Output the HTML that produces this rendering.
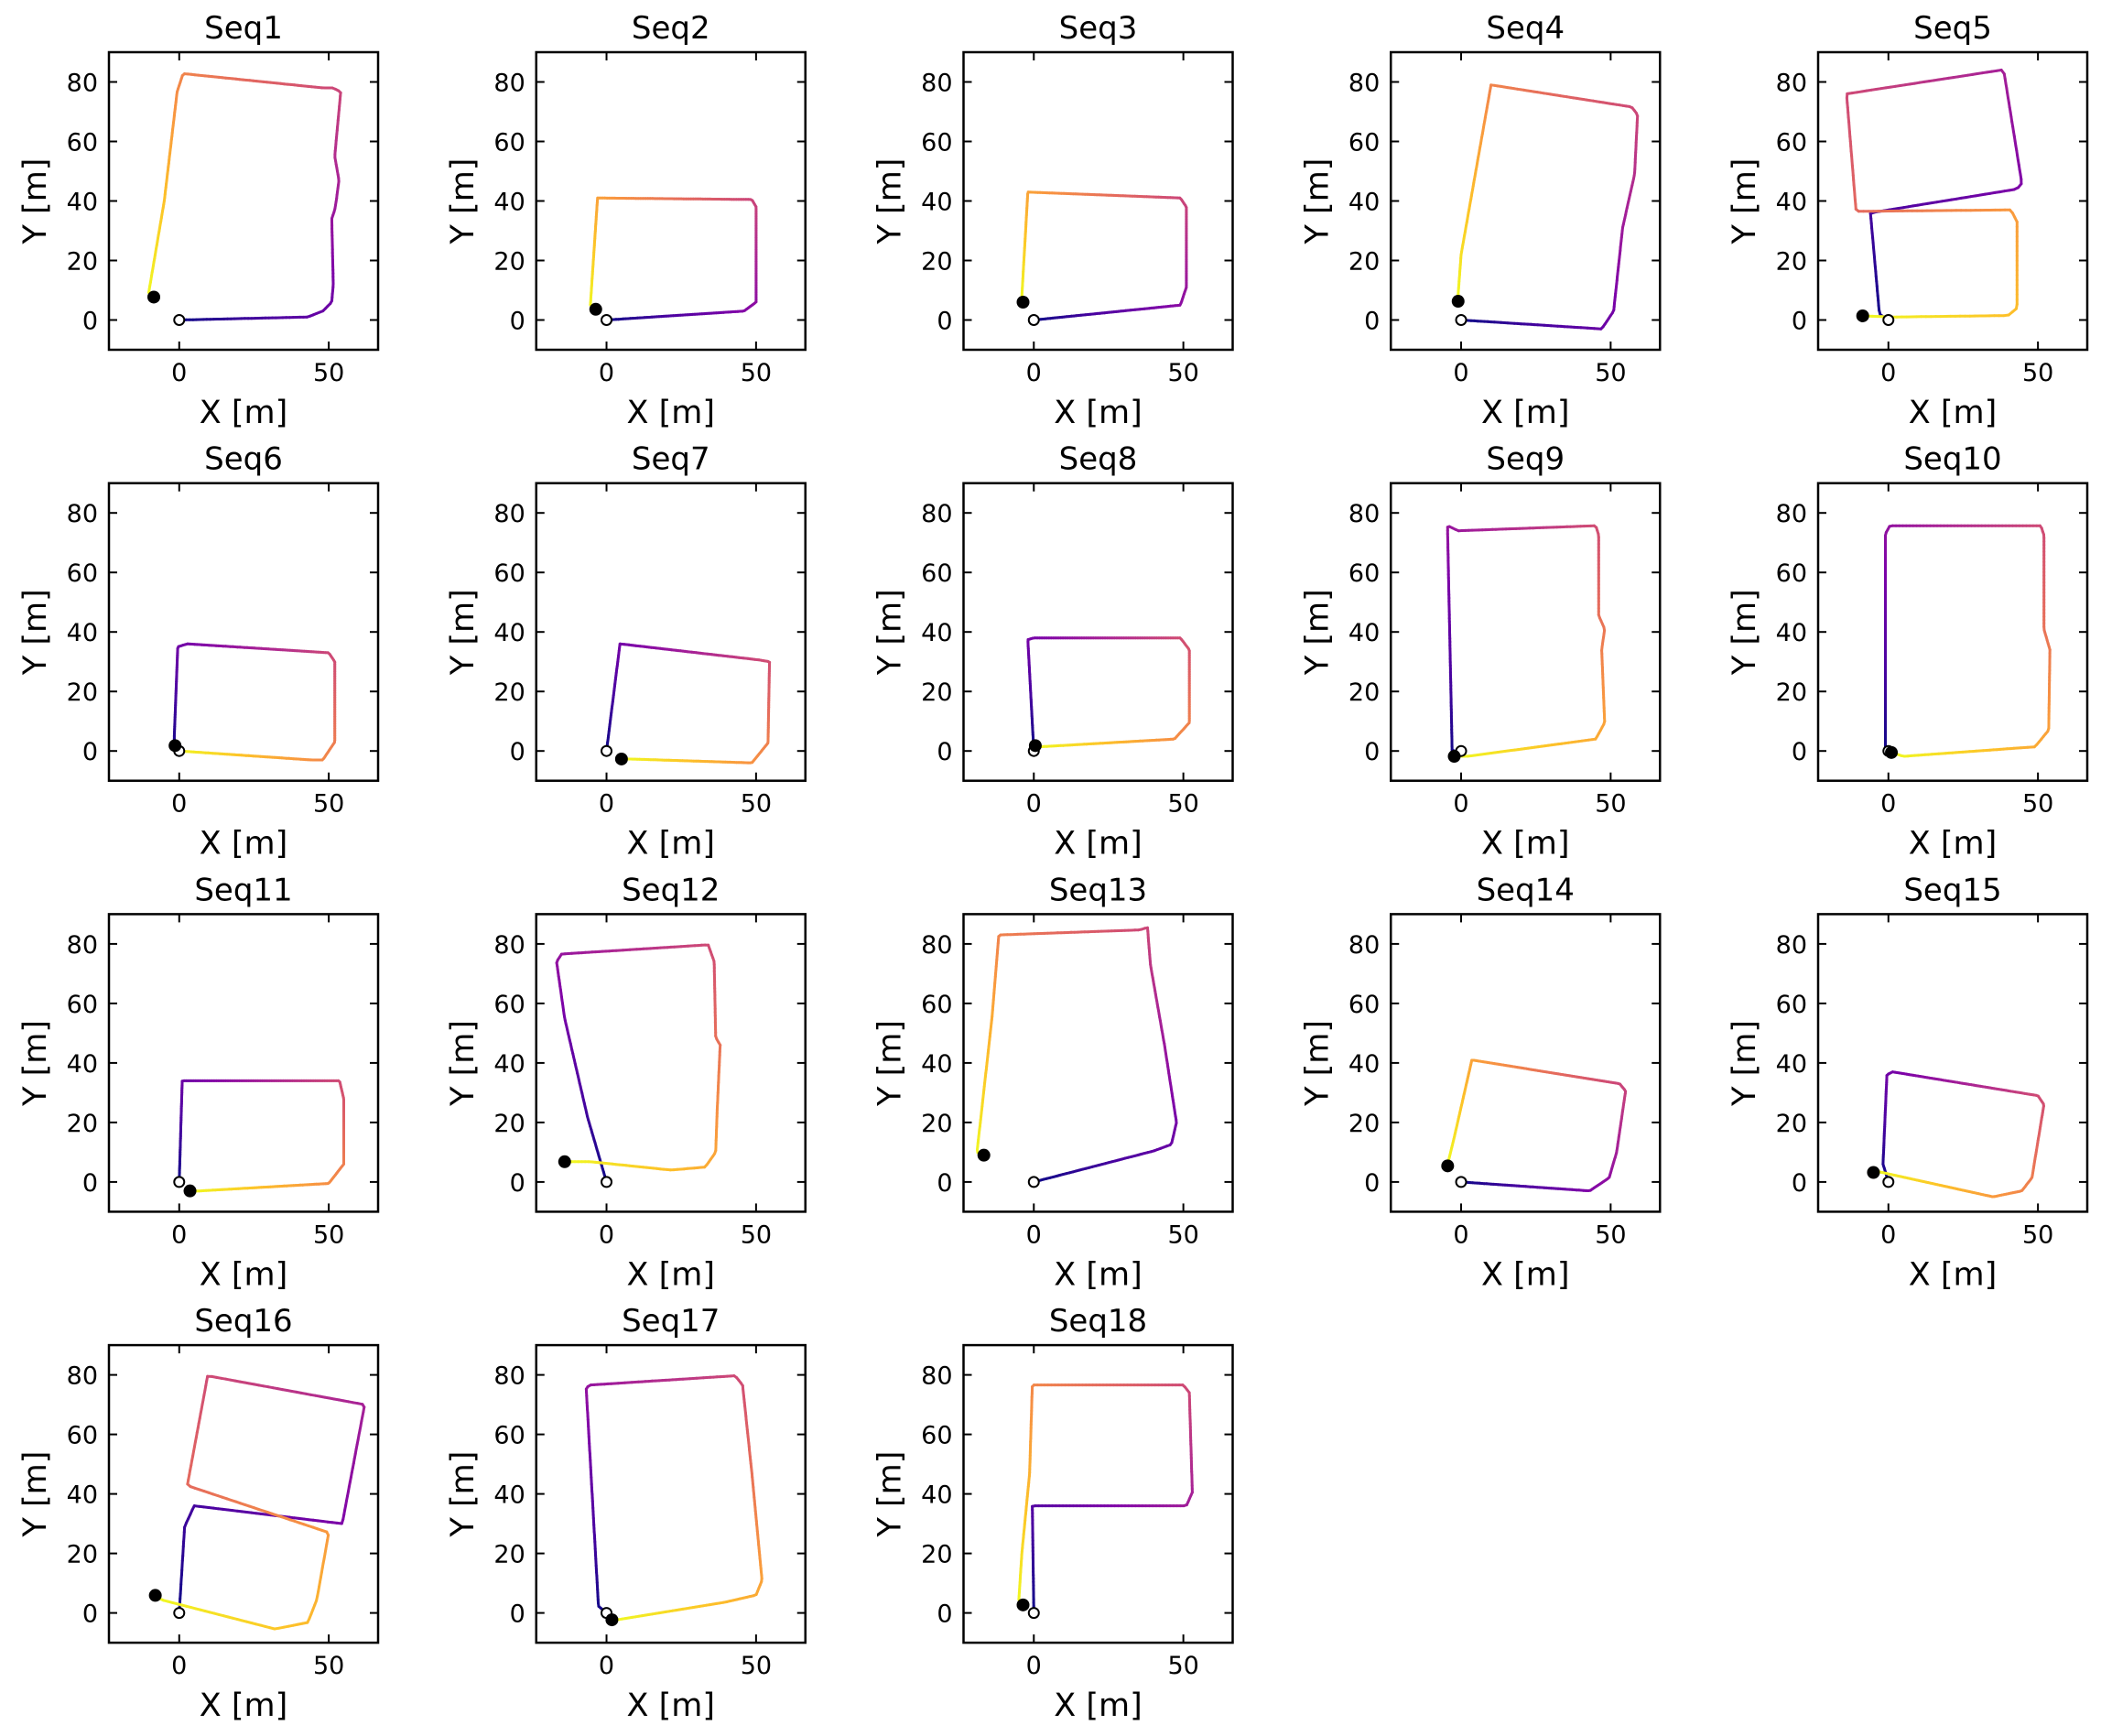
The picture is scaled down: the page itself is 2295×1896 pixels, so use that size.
<!DOCTYPE html>
<html><head><meta charset="utf-8"><style>
html,body{margin:0;padding:0;background:#fff}
svg text{font-family:"DejaVu Sans","Liberation Sans",sans-serif;fill:#000}
</style></head><body>
<svg id="s" xmlns="http://www.w3.org/2000/svg" width="2295" height="1891" viewBox="0 0 2295 1891"></svg>
<script>
const S=document.getElementById('s');
const seqs=[
[[0,0],[43,1],[48,3],[51,6],[51.5,12],[51,34],[52,37],[52.5,40],[53.4,47],[52,55],[54,76.7],[51.3,78],[48,78],[1.3,82.8],[-0.7,76.7],[-5,40],[-10.2,9.2],[-8.5,7.7]],
[[0,0],[46,3],[50,6],[50,38],[48.6,40.5],[-3,41],[-5.4,5],[-3.6,3.6]],
[[0,0],[49,5],[51,11],[51,38],[49,41],[-2,43],[-4,8],[-3.6,6]],
[[0,0],[47,-3],[51,3],[54,31],[58,49],[59,69],[57,71.6],[10,79],[0,22],[-1,8.5],[-1,6.3]],
[[0,0],[-3,2],[-6,36],[43,44],[44.6,46],[38.7,83],[37.8,84],[-14,76],[-10.8,36.5],[41,37],[43,33],[43,4],[40,1.5],[1.4,1],[-8.6,1.4]],
[[0,0],[-1.8,0.5],[-0.5,35],[2.7,36],[50,33],[52,30],[52,3],[48,-3],[44,-3],[0,0],[-1.4,1.8]],
[[0,0],[4.5,36],[51,30.6],[54.5,30],[54,2.7],[48.6,-4],[8,-2.7],[5,-2.7]],
[[0,0],[-2,37.4],[0,38],[49,38],[52,34],[52,9.5],[47,4],[1.8,1.4],[0.5,1.8]],
[[0,0],[-3,0],[-4.5,73],[-4.5,75.7],[-1,74],[45,75.7],[46,72.5],[46,45.5],[48,41],[47,34],[48,9.5],[45,4],[2,-1.8],[-2.3,-1.8]],
[[0,0],[-1,0],[-1,73],[0.5,75.7],[51,75.7],[52,72.5],[52,41],[54,34],[53.6,7],[49,1.4],[5,-1.8],[1,-0.5]],
[[0,0],[1,34],[53.6,34],[55,28],[55,6],[50,-0.5],[7,-3],[3.6,-3]],
[[0,0],[-6.3,21.6],[-14,55],[-16.7,74],[-15,76.6],[34,79.7],[36,74],[36.5,48.6],[38,46],[37,24],[36.5,10],[33,5],[21.6,4],[-5.4,6.8],[-14,6.8]],
[[0,0],[40,10.4],[46,12.6],[47.7,20],[43.7,46],[39,73],[38,85.6],[35.6,84.7],[-11.7,83],[-14,55],[-17,28],[-19,10],[-16.7,9]],
[[0,0],[43,-3],[49.5,1.4],[52,10],[55,30.6],[53,33],[3.6,41],[-2.3,15],[-4.5,6],[-4.5,5.4]],
[[0,0],[-1.8,6],[-0.5,36],[1.4,37],[50,29],[52,26],[48,1.4],[44.6,-3],[35,-5],[-4,3.6],[-5,3.2]],
[[0,0],[1.8,29],[5,36],[54.5,30],[62,70],[9.5,79.7],[2.7,42.8],[50,27],[46,4.5],[43,-3.2],[32,-5.4],[-6.3,4.5],[-8,5.9]],
[[0,0],[-2.7,2.3],[-6.8,75.7],[-5.4,76.6],[43,79.7],[45.5,76.6],[48.6,47],[52,11],[50,6],[39.6,3.6],[3.6,-2.3],[1.8,-2.3]],
[[0,0],[-0.5,36],[51,36],[53,40.5],[52,74],[50,76.6],[-0.5,76.6],[-1.4,47],[-4,20],[-5,4.5],[-3.6,2.7]]
];
const stops=[[13,8,135],[76,2,161],[126,3,168],[169,35,149],[204,71,120],[229,107,93],[248,148,65],[253,195,40],[240,249,33]];
function cm(t){t=Math.max(0,Math.min(1,t))*8;const i=Math.min(7,Math.floor(t)),f=t-i,a=stops[i],b=stops[i+1];
return `rgb(${a.map((v,k)=>Math.round(v+(b[k]-v)*f)).join(',')})`;}
let h='';
const W=294,H=325;
seqs.forEach((pts,n)=>{
 const c=n%5,r=Math.floor(n/5);
 const L=119+c*466.75,T=57+r*470.7;
 const X=x=>L+(x+23.5)*3.267, Y=y=>T+(90-y)*3.25;
 // trajectory
 let len=[0];for(let i=1;i<pts.length;i++){len.push(len[i-1]+Math.hypot(pts[i][0]-pts[i-1][0],pts[i][1]-pts[i-1][1]));}
 const tot=len[len.length-1],N=220;
 const at=s=>{let i=1;while(i<len.length-1&&len[i]<s)i++;const f=(s-len[i-1])/((len[i]-len[i-1])||1);return [pts[i-1][0]+(pts[i][0]-pts[i-1][0])*f,pts[i-1][1]+(pts[i][1]-pts[i-1][1])*f];};
 let prev=at(0);
 for(let k=1;k<=N;k++){const p=at(tot*k/N);
  h+=`<line x1="${X(prev[0]).toFixed(1)}" y1="${Y(prev[1]).toFixed(1)}" x2="${X(p[0]).toFixed(1)}" y2="${Y(p[1]).toFixed(1)}" stroke="${cm(k/N)}" stroke-width="3" stroke-linecap="round"/>`;prev=p;}
 const e=pts[pts.length-1];
 h+=`<circle cx="${X(0)}" cy="${Y(0)}" r="5.5" fill="#fff" stroke="#000" stroke-width="2"/>`;
 h+=`<circle cx="${X(e[0])}" cy="${Y(e[1])}" r="7" fill="#000"/>`;
 // frame
 h+=`<rect x="${L}" y="${T}" width="${W}" height="${H}" fill="none" stroke="#000" stroke-width="2.5"/>`;
 [0,50].forEach(v=>{const x=X(v);h+=`<line x1="${x}" y1="${T+H}" x2="${x}" y2="${T+H-9}" stroke="#000" stroke-width="2"/><line x1="${x}" y1="${T}" x2="${x}" y2="${T+9}" stroke="#000" stroke-width="2"/><text x="${x}" y="${T+H+34}" font-size="27" text-anchor="middle">${v}</text>`;});
 [0,20,40,60,80].forEach(v=>{const y=Y(v);h+=`<line x1="${L}" y1="${y}" x2="${L+9}" y2="${y}" stroke="#000" stroke-width="2"/><line x1="${L+W}" y1="${y}" x2="${L+W-9}" y2="${y}" stroke="#000" stroke-width="2"/><text x="${L-12}" y="${y+10}" font-size="27" text-anchor="end">${v}</text>`;});
 h+=`<text x="${L+W/2}" y="${T-15}" font-size="34" text-anchor="middle">Seq${n+1}</text>`;
 h+=`<text x="${L+W/2}" y="${T+H+80}" font-size="35" text-anchor="middle">X [m]</text>`;
 h+=`<text transform="translate(${L-69},${T+H/2}) rotate(-90)" font-size="35" text-anchor="middle">Y [m]</text>`;
});
S.innerHTML=h;
</script>
</body></html>
